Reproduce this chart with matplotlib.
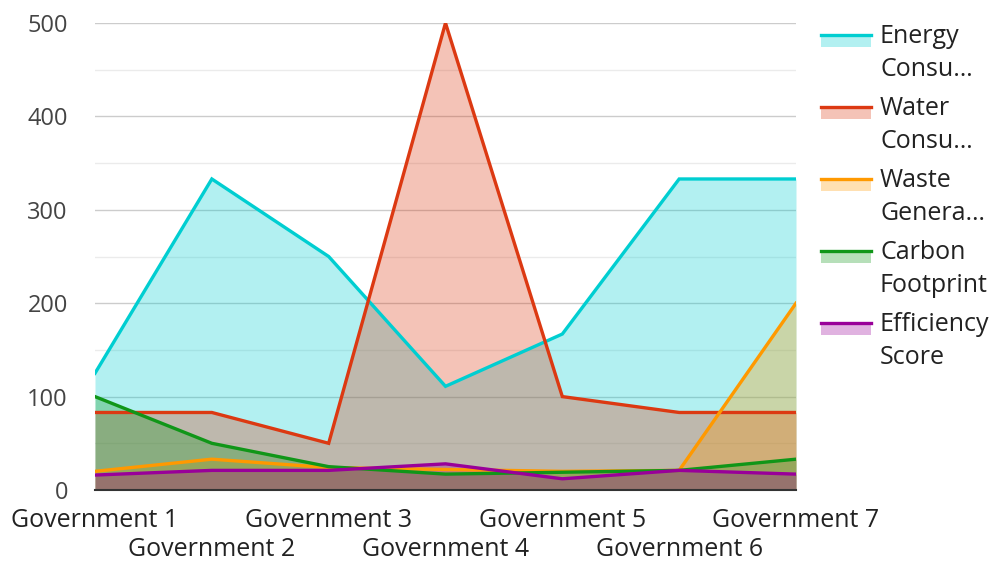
import matplotlib.pyplot as plt
from matplotlib.patches import Rectangle
from matplotlib.lines import Line2D
import numpy as np

plt.rcParams['font.family'] = ['Open Sans', 'DejaVu Sans']

governments = ['Government 1', 'Government 2', 'Government 3', 'Government 4',
               'Government 5', 'Government 6', 'Government 7']
energy = [125, 333, 250, 111, 167, 333, 333]
water = [83, 83, 50, 500, 100, 83, 83]
waste = [20, 33, 24, 22, 20, 21, 200]
carbon = [100, 50, 25, 17, 19, 21, 33]
efficiency = [16, 21, 21, 28, 12, 21, 17]

series = [
    ("Energy\nConsu…", energy, '#00CED1'),
    ("Water\nConsu…", water, '#DC3912'),
    ("Waste\nGenera…", waste, '#FF9900'),
    ("Carbon\nFootprint", carbon, '#109618'),
    ("Efficiency\nScore", efficiency, '#990099'),
]

fig = plt.figure(figsize=(9.93, 5.62), dpi=100)
ax = fig.add_axes([95/993, 1 - 490/562, (796 - 95)/993, (490 - 23)/562])

x = np.arange(len(governments))
for name, vals, col in series:
    ax.fill_between(x, 0, vals, color=col, alpha=0.3, linewidth=0)
for name, vals, col in series:
    ax.plot(x, vals, color=col, linewidth=2.4, solid_joinstyle='miter', zorder=3)

ax.set_xlim(0, len(governments) - 1)
ax.set_ylim(0, 500)
ax.set_yticks([0, 100, 200, 300, 400, 500])
ax.set_yticks([50, 150, 250, 350, 450], minor=True)
ax.grid(axis='y', which='major', color='#cccccc', linewidth=1)
ax.grid(axis='y', which='minor', color='#ebebeb', linewidth=1)
ax.set_axisbelow(True)
for s in ['top', 'right', 'left']:
    ax.spines[s].set_visible(False)
ax.spines['bottom'].set_color('#333333')
ax.spines['bottom'].set_linewidth(1.5)
ax.tick_params(axis='y', which='both', length=0, pad=19.5, labelsize=17, labelcolor='#444444')

# staggered x labels: even positions on the first row, odd on the second
ax.set_xticks(x[::2])
ax.set_xticklabels(governments[::2])
ax.set_xticks(x[1::2], minor=True)
ax.set_xticklabels(governments[1::2], minor=True)
ax.tick_params(axis='x', which='major', length=0, pad=13, labelsize=18, labelcolor='#222222')
ax.tick_params(axis='x', which='minor', length=0, pad=34, labelsize=18, labelcolor='#222222')

# legend drawn by hand
for i, (name, vals, col) in enumerate(series):
    ytop = 34 + 72 * i
    fig.add_artist(Rectangle((821/993, 1 - (ytop + 13)/562), 50/993, 13/562,
                             transform=fig.transFigure, color=col, alpha=0.3, linewidth=0))
    fig.add_artist(Line2D([821/993, 871/993], [1 - (ytop + 1)/562] * 2,
                          transform=fig.transFigure, color=col, linewidth=2.4))
    fig.text(880/993, 1 - (ytop + 19)/562, name, ha='left', va='center',
             fontsize=18, color='#222222', linespacing=1.38)

fig.savefig('out.png', dpi=100)
